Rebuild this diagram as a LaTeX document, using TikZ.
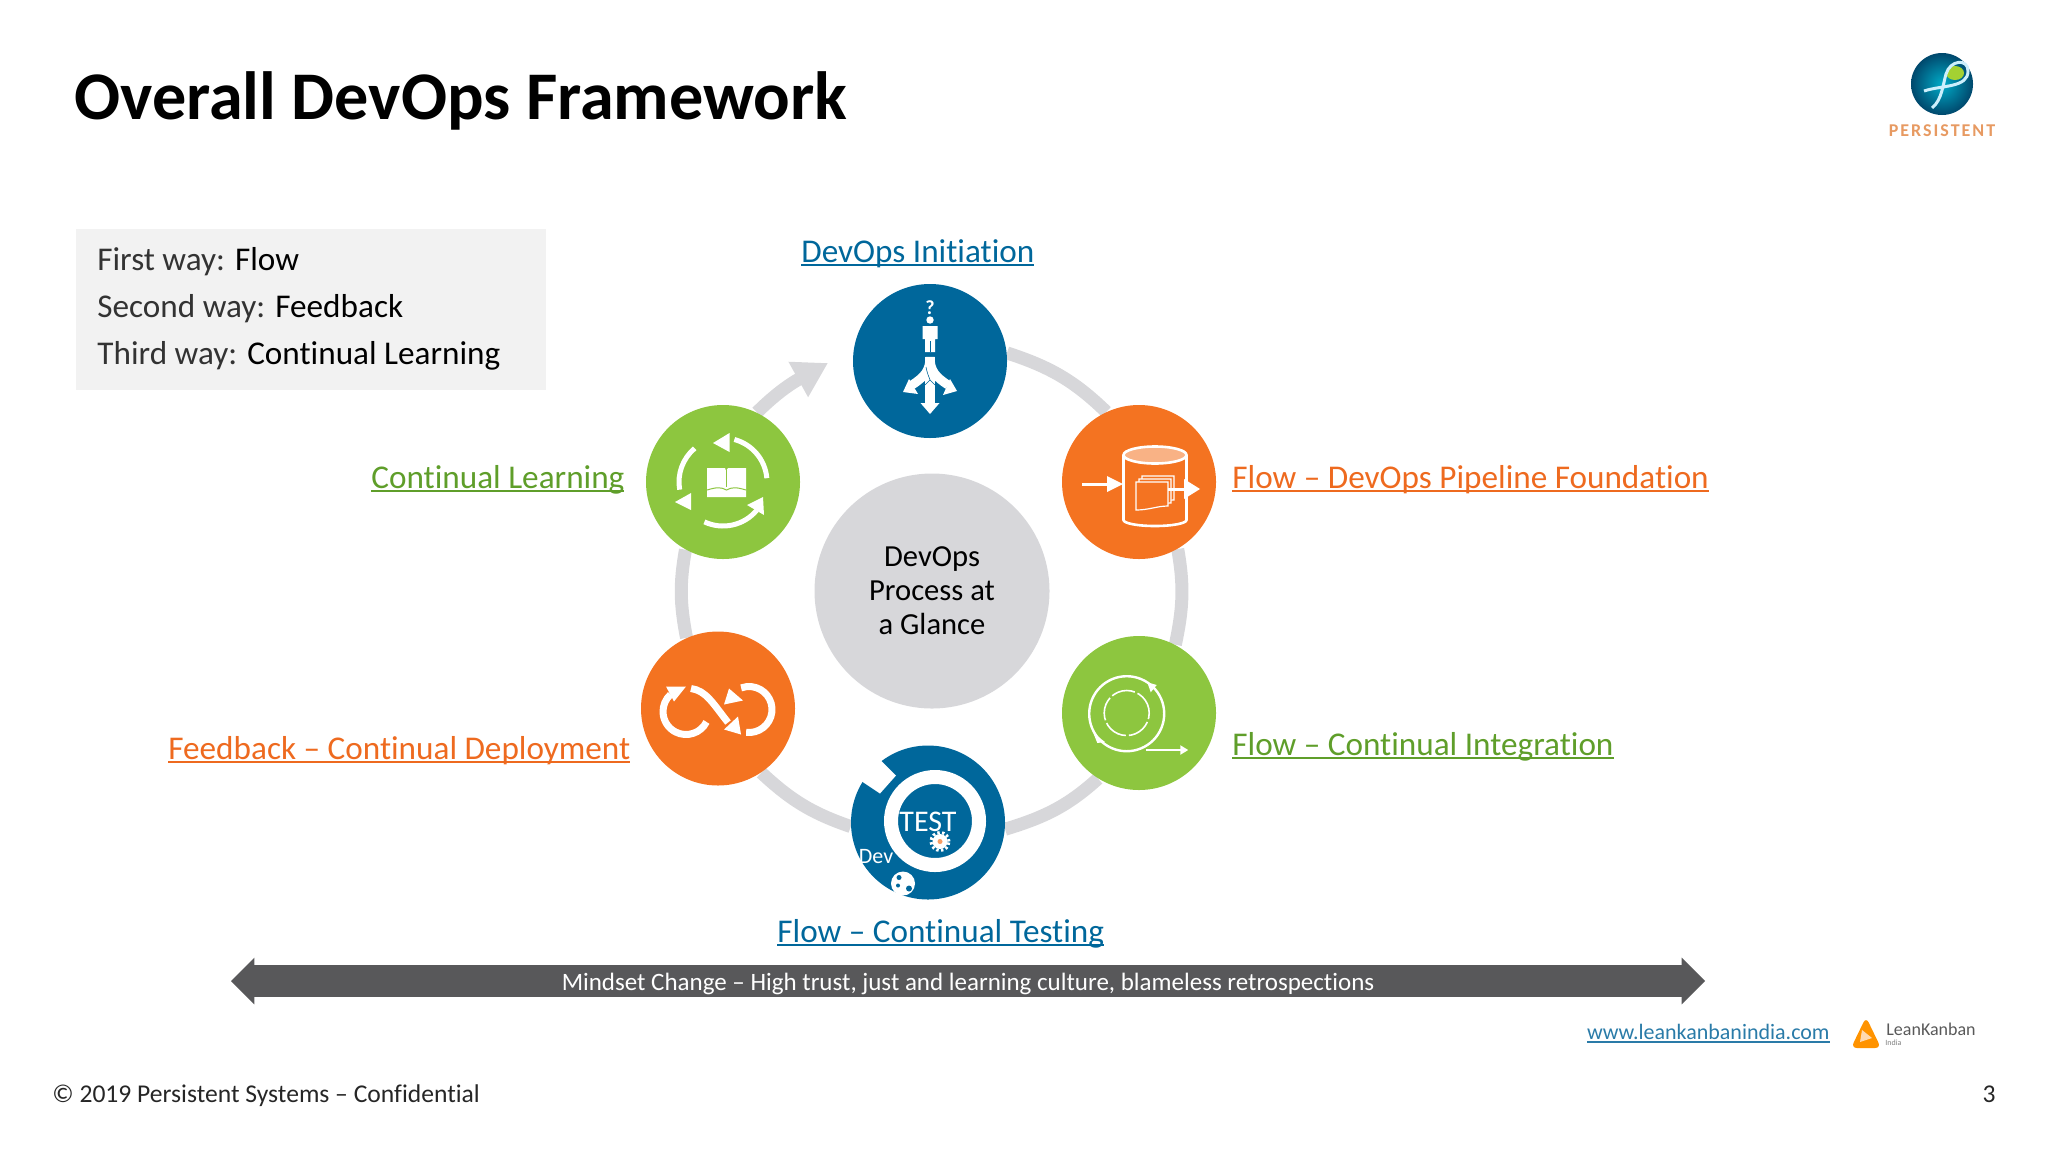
\documentclass[tikz,border=0pt]{standalone}
\usepackage{fontspec}
\setmainfont[Ligatures=NoCommon]{Carlito}
\usetikzlibrary{arrows.meta,backgrounds,shapes.arrows}
\definecolor{stageblue}{HTML}{00679B}
\definecolor{stageorange}{HTML}{F47321}
\definecolor{stagegreen}{HTML}{8DC63F}
\definecolor{ringgrey}{HTML}{D7D7DA}
\definecolor{labelgreen}{HTML}{5F9E2A}
\definecolor{labelorange}{HTML}{EE6A1F}
\definecolor{bandgrey}{HTML}{58585A}
\definecolor{linkblue}{HTML}{2A7BA8}
\newcommand{\ulabel}[1]{\setbox0\hbox{#1}\rlap{\rule[-2pt]{\wd0}{0.9pt}}\box0}
\newcommand{\fsize}[1]{\fontsize{#1}{#1}\selectfont}
\tikzset{
    stage/.style={circle, fill=#1, minimum size=77pt, inner sep=0pt},
    ringarc/.style={draw=ringgrey, line width=6.5pt},
    stagelabel/.style={anchor=base west, inner sep=0pt, font=\fsize{16.6}},
    waytext/.style={anchor=base west, inner sep=0pt, font=\fsize{16.6}, text=black!80},
    iconline/.style={draw=white, line width=#1},
    iconline/.default=2.5pt,
    whitehead/.style={fill=white, draw=none}
}
\begin{document}
\begin{tikzpicture}[x=0.5pt, y=-0.5pt]
    \useasboundingbox (0, 0) rectangle (2048, 1152);

    \node[anchor=base west, inner sep=0pt, font=\fsize{34.1}\bfseries] (title) at (74, 119) {Overall DevOps Framework};

    % ways box
    \node[anchor=north west, fill=black!5, minimum width=235pt, minimum height=80.5pt, inner sep=0pt] (waybox) at (76, 229) {};
    \node[waytext] (firstway) at (97, 270) {First way: \textcolor{black}{Flow}};
    \node[waytext] (secondway) at (97, 317) {Second way: \textcolor{black}{Feedback}};
    \node[waytext] (thirdway) at (97, 364) {Third way: \textcolor{black}{Continual Learning}};

    % cycle
    \node[circle, fill=ringgrey, minimum size=117.5pt, inner sep=0pt, align=center, font=\fontsize{15.3}{17}\selectfont] (hub) at (932, 591) {DevOps\\Process at\\a Glance};
    \node[stage=stageblue] (init) at (930, 361) {};
    \node[stage=stageorange] (found) at (1139, 482) {};
    \node[stage=stagegreen] (integ) at (1139, 713) {};
    \node[stage=stageblue] (test) at (928, 822.5) {};
    \node[stage=stageorange] (deploy) at (718, 708.5) {};
    \node[stage=stagegreen] (learn) at (723, 482) {};
    \coordinate (tip) at (828, 363);

    \begin{scope}[on background layer]
        \draw[ringarc] (init.6) to[out=-18, in=136] (found.115);
        \draw[ringarc] (found.-60) to[out=-80, in=78] (integ.62);
        \draw[ringarc] (integ.-122) to[out=-138, in=17] (test.-5);
        \draw[ringarc] (test.183) to[out=161, in=-43] (deploy.-56);
        \draw[ringarc] (deploy.114) to[out=101, in=260] (learn.-119);
        \draw[ringarc, -{Triangle[length=17pt, width=19pt]}] (learn.64) to[out=45, in=209] (tip);
    \end{scope}

    % stage labels
    \node[stagelabel, text=stageblue] (initlabel) at (801, 262) {\ulabel{DevOps Initiation}};
    \node[stagelabel, text=labelorange] (foundlabel) at (1232, 488) {\ulabel{Flow – DevOps Pipeline Foundation}};
    \node[stagelabel, text=labelgreen] (integlabel) at (1232, 755) {\ulabel{Flow – Continual Integration}};
    \node[stagelabel, text=stageblue] (testlabel) at (777, 942) {\ulabel{Flow – Continual Testing}};
    \node[stagelabel, text=labelorange] (deploylabel) at (168, 759) {\ulabel{Feedback – Continual Deployment}};
    \node[stagelabel, text=labelgreen] (learnlabel) at (371, 488) {\ulabel{Continual Learning}};

    % init icon
    \begin{scope}[shift={(init.center)}, y=0.5pt]
        \node[inner sep=0pt, text=white, font=\fsize{10}\bfseries] (askmark) at (0, 53) {?};
        \fill[white] (0, 41) circle (3.7);
        \fill[white] (-7.5, 35) -- (7.5, 35) -- (7.5, 22) -- (5, 22) -- (5, 9) -- (-5, 9) -- (-5, 22) -- (-7.5, 22) -- cycle;
        \draw[draw=stageblue, line width=0.3pt] (0, 9) -- (0, 20);
        \draw[iconline=5pt] (0, 4) -- (0, -43);
        \draw[iconline=4.5pt] (0, 4) .. controls (0, -10) and (-6, -16) .. (-18, -24);
        \draw[iconline=4.5pt] (0, 4) .. controls (0, -10) and (6, -16) .. (18, -24);
        \fill[whitehead] (-27, -31) -- (-21, -18) -- (-12, -33) -- cycle;
        \fill[whitehead] (27, -30) -- (20, -18) -- (13, -34) -- cycle;
        \fill[whitehead] (0, -53) -- (-9.5, -42) -- (9.5, -42) -- cycle;
        \draw[draw=stageblue, line width=0.3pt] (-4, -6) .. controls (-3, -12) and (-1, -16) .. (0, -19);
        \draw[draw=stageblue, line width=0.3pt] (-5, -24) -- (0, -19) -- (5, -24);
    \end{scope}

    % found icon
    \begin{scope}[shift={(found.center)}, y=0.5pt]
        \draw[iconline=1.3pt] (-15.5, 27) -- (-15.5, -38) arc[start angle=180, end angle=360, x radius=31.5, y radius=6] -- (47.5, 27);
        \draw[iconline=1.3pt, fill=stageorange!55!white] (16, 27) ellipse (31.5 and 8.5);
        \foreach \pageoff in {6, 3, 0}
            \draw[iconline=0.6pt, fill=stageorange] (-3+\pageoff, 0+\pageoff) -- (29+\pageoff, 0+\pageoff) -- (29+\pageoff, -24+\pageoff) .. controls (18+\pageoff, -24+\pageoff) and (10+\pageoff, -28+\pageoff) .. (-3+\pageoff, -28+\pageoff) -- cycle;
        \draw[iconline=1.5pt] (-57, -2) -- (-30, -2);
        \fill[whitehead] (-16, -2) -- (-32, 6) -- (-32, -10) -- cycle;
        \draw[iconline=1.5pt] (29, -7) -- (46, -7);
        \fill[whitehead] (61, -7) -- (45, 3) -- (45, -17) -- cycle;
    \end{scope}

    % learn icon
    \begin{scope}[shift={(learn.center)}, y=0.5pt]
        \draw[iconline] (0, 0) ++(75:44) arc[start angle=75, end angle=5, radius=44];
        \draw[iconline] (0, 0) ++(130:44) arc[start angle=130, end angle=190, radius=44];
        \draw[iconline] (0, 0) ++(245:44) arc[start angle=245, end angle=320, radius=44];
        \fill[whitehead] (-10, 39) -- (6.5, 49) -- (6.5, 30) -- cycle;
        \fill[whitehead] (-48, -20) -- (-32, -11) -- (-32, -28) -- cycle;
        \fill[whitehead] (40, -15) -- (41, -33) -- (24, -23) -- cycle;
        \fill[whitehead] (-16, 14) -- (2, 14) -- (3, 11) -- (5, 14) -- (23, 14) -- (23, -15) -- (-16, -15) -- cycle;
        \draw[draw=stagegreen, line width=0.7pt] (3.5, 12) -- (3.5, -5);
        \draw[draw=stagegreen, line width=0.5pt] (-16, -8) .. controls (-6, -5) and (-2, -5) .. (3.5, -8) .. controls (9, -5) and (13, -5) .. (23, -8);
    \end{scope}

    % deploy icon
    \begin{scope}[shift={(deploy.center)}, y=0.5pt]
        \draw[iconline=3.5pt] (-32, -3) ++(-27:23) arc[start angle=-27, end angle=-228, radius=23];
        \fill[whitehead] (-52, 22) -- (-32, 22) -- (-44, 7) -- cycle;
        \draw[iconline=3.5pt] (-27, 20) .. controls (-12, 18) and (-5, 5) .. (10, -14);
        \fill[whitehead] (23, -26) -- (20, -8) -- (6, -21) -- cycle;
        \draw[iconline=3.5pt] (31, -1) ++(-97:23) arc[start angle=-97, end angle=110, radius=23];
        \fill[whitehead] (6, 4) -- (11, 20) -- (25, 8) -- cycle;
    \end{scope}

    % integ icon
    \begin{scope}[shift={(integ.center)}, y=0.5pt]
        \draw[iconline=1.2pt] (-12.3, -0.7) circle (37.5);
        \draw[iconline=0.8pt, dash pattern=on 12pt off 1.5pt] (-12.3, 0) circle (22.5);
        \fill[whitehead] (8.3, 30.7) -- (17.7, 28) -- (11.7, 20.7) -- cycle;
        \fill[whitehead] (-45.7, -20) -- (-34, -29) -- (-41.7, -30) -- cycle;
        \draw[iconline=1.2pt, -{Triangle[length=4pt, width=4.5pt]}] (7, -37) -- (49.3, -37);
    \end{scope}

    % test icon
    \begin{scope}[shift={(test.center)}, y=0.5pt]
        \fill[white] (-52, 67) -- (-32, 47) -- (-48, 29) -- (-72, 45) -- cycle;
        \draw[iconline=7pt] (7, 1.5) circle (44);
        \node[inner sep=0pt, text=white, font=\fsize{15}] (testword) at (0, 1) {TEST};
        \node[inner sep=0pt, text=white, font=\fsize{11}] (devword) at (-52, -34) {Dev};
        \fill[white] (12, -19) circle (7.5);
        \draw[draw=white, line width=1.5pt, dash pattern=on 1.2pt off 1.2pt] (12, -19) circle (9);
        \fill[stageorange!70!white] (12, -19) circle (2.5);
        \fill[white] (-25, -61) circle (12);
        \fill[stageblue] (-29, -55) circle (2.5);
        \fill[stageblue] (-30, -63) circle (2);
        \fill[stageblue] (-19, -66) circle (3);
    \end{scope}

    % mindset band
    \node[double arrow, fill=bandgrey, text=white, inner sep=0pt, minimum height=737pt, text height=12.3pt, text depth=3.2pt, double arrow head extend=3.75pt, font=\fsize{12.5}] (band) at (968, 981) {Mindset Change – High trust, just and learning culture, blameless retrospections};

    % persistent logo
    \begin{scope}[shift={(1942, 84)}, y=0.5pt]
        \shade[inner color=stageblue!55!cyan, outer color=stageblue!70!black] (0, 0) circle (31);
        \fill[stagegreen!80!yellow] (13, 11) ellipse (9 and 7);
        \draw[draw=white!80!cyan, line width=1.5pt] (-18, -7) .. controls (0, -1) and (26, -4) .. (26, 13) .. controls (26, 26) and (8, 24) .. (4, 10) .. controls (1, 0) and (0, -16) .. (-10, -24);
    \end{scope}
    \node[inner sep=0pt, text=stageorange!60!brown!75!white, font=\fsize{9}\bfseries\addfontfeature{LetterSpace=11}] (persistent) at (1942, 131) {PERSISTENT};

    % footer
    \node[anchor=base east, inner sep=0pt, text=linkblue, font=\fsize{11}] (link) at (1830, 1039) {\ulabel{www.leankanbanindia.com}};
    \fill[orange!85!yellow, rounded corners=3pt] (1866, 1017) -- (1881, 1048) -- (1851, 1048) -- cycle;
    \fill[white!70!orange] (1862, 1030) -- (1872, 1038) -- (1860, 1042) -- cycle;
    \node[anchor=west, inner sep=0pt, text=black!65, font=\fsize{9}] (leankanban) at (1886, 1029) {LeanKanban};
    \node[anchor=west, inner sep=0pt, text=black!50, font=\fsize{4}] (leanindia) at (1885, 1043) {India};
    \node[anchor=base west, inner sep=0pt, text=black!85, font=\fsize{12.8}] (copyright) at (52, 1102) {© 2019 Persistent Systems – Confidential};
    \node[anchor=base east, inner sep=0pt, text=black!85, font=\fsize{12.8}] (pagenum) at (1996, 1102) {3};
\end{tikzpicture}
\end{document}
